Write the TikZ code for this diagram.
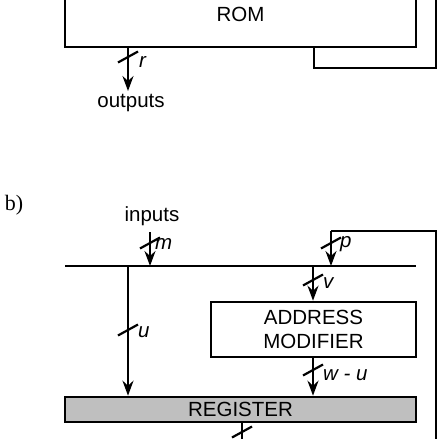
\documentclass[tikz,border=0pt]{standalone}
\usepackage{fontspec}
\setmainfont{Liberation Serif}
\setsansfont{Liberation Sans}
\usetikzlibrary{arrows.meta, positioning, calc}

\begin{document}
\begin{tikzpicture}[
    font=\sffamily\fontsize{20.5}{23.5}\selectfont,
    block/.style={rectangle, draw, line width=2.6pt, inner sep=0pt, align=center},
    arrow/.style={-{Stealth[length=15pt, width=11pt, inset=5pt]}, line width=2.2pt},
    wire/.style={line width=2.4pt},
    tick/.style={line width=2.2pt},
    lbl/.style={font=\sffamily\itshape\fontsize{20.5}{23.5}\selectfont, inner sep=0pt, anchor=west}
]
    \useasboundingbox (0pt,-439pt) rectangle (439pt,0pt);
    \fill[white] (0pt,-439pt) rectangle (439pt,0pt);
    \clip (0pt,-439pt) rectangle (439pt,0pt);

    % a) ROM with feedback
    \node[block, minimum width=351pt, minimum height=66pt] (rom) at (240.5pt,-14pt) {ROM};
    \node (outp) at (131pt,-103pt) {outputs};
    \coordinate (outA) at (128pt,-91pt);
    \coordinate (romFb) at (314pt,-47pt);
    \coordinate (romLoop) at (436pt,-68pt);
    \coordinate (romTop) at (436pt,30pt);

    \draw[arrow] (rom.south -| outA) -- (outA);
    \node[lbl] (labr) at (139pt,-62pt) {r};
    \draw[wire] (romFb) |- (romLoop) -- (romTop);

    % b) register with address modifier
    \node (tagb) at (14pt,-205pt) {\rmfamily\fontsize{22}{24}\selectfont b)};
    \node (inp) at (152pt,-216pt) {inputs};
    \node[block, minimum width=205pt, minimum height=55pt] (modif) at (313.5pt,-329.5pt) {ADDRESS\\MODIFIER};
    \node[block, fill=gray!50, minimum width=351pt, minimum height=25pt] (reg) at (240.5pt,-409.5pt) {REGISTER};

    \coordinate (inA) at (150pt,-232pt);
    \coordinate (busL) at (65pt,-266pt);
    \coordinate (busR) at (416pt,-266pt);
    \coordinate (busM) at (150pt,-266pt);
    \coordinate (busP) at (331pt,-266pt);
    \coordinate (busV) at (313pt,-266pt);
    \coordinate (busU) at (128pt,-266pt);
    \coordinate (fbTop) at (331pt,-231pt);
    \coordinate (fbBot) at (436pt,-460pt);
    \coordinate (regOut) at (242pt,-460pt);

    \draw[wire] (busL) -- (busR);
    \draw[arrow] (inA) -- (busM);
    \draw[wire] (fbBot) |- (fbTop);
    \draw[arrow] (fbTop) -- (busP);
    \draw[arrow] (busV) -- (modif.north -| busV);
    \draw[arrow] (modif.south -| busV) -- (reg.north -| busV);
    \draw[arrow] (busU) -- (reg.north -| busU);
    \draw[arrow] (reg.south -| regOut) -- (regOut);

    % bus width marks
    \foreach \p in {(128pt,-57pt), (150pt,-243pt), (331pt,-243pt), (313pt,-280pt), (313pt,-370pt), (128pt,-330pt), (242pt,-432pt)}
        \draw[tick] \p +(-10pt,-5.5pt) -- +(10pt,5.5pt);
    \node[lbl] (labm) at (155pt,-244pt) {m};
    \node[lbl] (labp) at (340pt,-244pt) {p};
    \node[lbl] (labv) at (323pt,-283pt) {v};
    \node[lbl] (labw) at (323pt,-375pt) {w - u};
    \node[lbl] (labu) at (138pt,-332pt) {u};
\end{tikzpicture}
\end{document}
